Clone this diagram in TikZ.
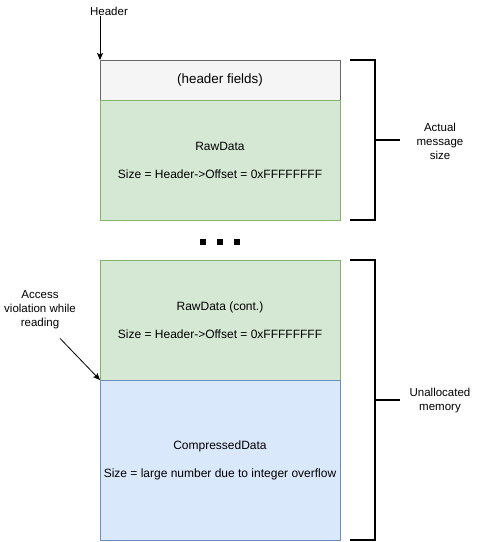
\documentclass[tikz,border=0pt]{standalone}
\usepackage{fontspec}
\setmainfont{Liberation Sans}
\usetikzlibrary{arrows.meta,positioning,calc}
\definecolor{hdrfill}{HTML}{F5F5F5}
\definecolor{hdrline}{HTML}{666666}
\definecolor{rawfill}{HTML}{D5E8D4}
\definecolor{rawline}{HTML}{82B366}
\definecolor{compfill}{HTML}{DAE8FC}
\definecolor{compline}{HTML}{6C8EBF}
\tikzset{
  block/.style={rectangle, draw, line width=0.8pt, minimum width=240pt, outer sep=0pt, inner sep=0pt, text centered, align=center, font=\fontsize{12}{14}\selectfont},
  hdrblock/.style={block, fill=hdrfill, draw=hdrline, minimum height=40pt, font=\fontsize{13.4}{15}\selectfont},
  rawblock/.style={block, fill=rawfill, draw=rawline, minimum height=120pt},
  compblock/.style={block, fill=compfill, draw=compline, minimum height=160pt},
  note/.style={align=center, inner sep=1pt, font=\fontsize{11.5}{14}\selectfont},
  brace/.style={draw, line width=1.6pt},
  line/.style={draw, line width=0.8pt, -{Stealth[length=7pt,width=6pt,inset=1.5pt]}},
  dotbox/.style={rectangle, fill=black, minimum size=5.5pt, inner sep=0pt}
}
\begin{document}
\begin{tikzpicture}[x=1pt, y=1pt]
		\useasboundingbox (0,0) rectangle (491,-542);
		% Memory blocks
		\node[hdrblock, anchor=north west] (hdr) at (100,-60) {(header fields)};
		\node[rawblock, below=0pt of hdr] (raw0) {RawData\\[14pt]Size = Header->Offset = 0xFFFFFFFF};
		\node[rawblock, below=40pt of raw0] (raw1) {RawData (cont.)\\[14pt]Size = Header->Offset = 0xFFFFFFFF};
		\node[compblock, below=0pt of raw1] (comp) {CompressedData\\[14pt]Size = large number due to integer overflow};
		
		% dots between the two parts
		\foreach \i/\x in {1/203,2/220,3/237}
			\node[dotbox] (dot\i) at (\x,-242) {};
		
		% Labels
		\node[note] (hdrlbl) at (109,-11) {Header};
		\node[note] (acclbl) at (40,-310) {Access\\violation while\\reading};
		\node[note] (actlbl) at (440,-141) {Actual\\message\\size};
		\node[note] (unalbl) at (440,-401) {Unallocated\\memory};
		
		% Arrows
		\path [line] (hdrlbl.south -| hdr.north west) -- (hdr.north west);
		\path [line] ([xshift=20pt,yshift=-8pt]acclbl.south) -- (raw1.south west);
		
		% Brackets
		\path [brace] ([xshift=10pt]hdr.north east) -| ([xshift=35pt]raw0.south east) -- ([xshift=10pt]raw0.south east);
		\path [brace] ($(hdr.north east)!0.5!(raw0.south east)+(35pt,0)$) -- ++(25pt,0);
		\path [brace] ([xshift=10pt]raw1.north east) -| ([xshift=35pt]comp.south east) -- ([xshift=10pt]comp.south east);
		\path [brace] ($(raw1.north east)!0.5!(comp.south east)+(35pt,0)$) -- ++(25pt,0);
		
	\end{tikzpicture}
\end{document}
